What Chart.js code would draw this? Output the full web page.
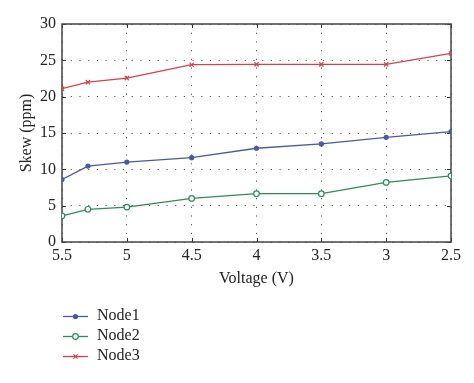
<!DOCTYPE html>
<html><head><meta charset="utf-8">
<script src="https://cdn.jsdelivr.net/npm/chart.js@4"></script>
<style>html,body{margin:0;padding:0;background:#fff}#wrap{width:474px;height:383px}</style>
</head><body><div id="wrap"><canvas id="c" width="474" height="383"></canvas></div>
<script>
const voltages = [5.5, 5.3, 5, 4.5, 4, 3.5, 3, 2.5];
const node1 = [8.6, 10.45, 11.0, 11.6, 12.9, 13.5, 14.4, 15.2];
const node2 = [3.6, 4.5, 4.8, 6.0, 6.65, 6.65, 8.2, 9.1];
const node3 = [21.1, 22.0, 22.55, 24.4, 24.45, 24.45, 24.45, 25.95];
const xTicks = [5.5, 5, 4.5, 4, 3.5, 3, 2.5];
const yTicks = [0, 5, 10, 15, 20, 25, 30];
const seriesNames = ['Node1', 'Node2', 'Node3'];

const FONT = "'Liberation Serif', 'DejaVu Serif', serif";
const pts = arr => voltages.map((v, i) => ({x: v, y: arr[i]}));

const styles = [
  {color: '#4a5a9c', pointStyle: 'circle', radius: 2, fill: '#4a5a9c'},
  {color: '#2e8a5a', pointStyle: 'circle', radius: 2.8, fill: '#ffffff'},
  {color: '#d2434d', pointStyle: 'crossRot', radius: 3, fill: '#d2434d'}
];
const datasets = [node1, node2, node3].map((d, i) => ({
  label: seriesNames[i], data: pts(d),
  borderColor: styles[i].color, backgroundColor: styles[i].fill,
  pointStyle: styles[i].pointStyle, pointRadius: styles[i].radius,
  pointBorderColor: styles[i].color, pointBorderWidth: 1.2,
  borderWidth: 1.3, tension: 0
}));

const framePlugin = {
  id: 'frame',
  beforeDatasetsDraw(chart) {
    const {ctx, chartArea: a, scales} = chart;
    ctx.save();
    ctx.strokeStyle = '#333';
    ctx.lineWidth = 1;
    const L = 4;
    ctx.beginPath();
    scales.x.ticks.forEach((t, i) => {
      const x = Math.round(scales.x.getPixelForTick(i)) + 0.5;
      ctx.moveTo(x, a.bottom); ctx.lineTo(x, a.bottom - L);
      ctx.moveTo(x, a.top); ctx.lineTo(x, a.top + L);
    });
    scales.y.ticks.forEach((t, i) => {
      const y = Math.round(scales.y.getPixelForTick(i)) + 0.5;
      ctx.moveTo(a.left, y); ctx.lineTo(a.left + L, y);
      ctx.moveTo(a.right, y); ctx.lineTo(a.right - L, y);
    });
    ctx.stroke();
    ctx.strokeStyle = '#444';
    ctx.lineWidth = 1.5;
    ctx.strokeRect(a.left, a.top, a.right - a.left, a.bottom - a.top);
    ctx.restore();
  },
  afterDraw(chart) {
    const {ctx} = chart;
    ctx.save();
    const x0 = 63, x1 = 88, tx = 97, rows = [316, 336, 356];
    chart.data.datasets.forEach((ds, i) => {
      const y = rows[i];
      ctx.strokeStyle = ds.borderColor; ctx.lineWidth = 1.3;
      ctx.beginPath(); ctx.moveTo(x0, y + 0.5); ctx.lineTo(x1, y + 0.5); ctx.stroke();
      ctx.fillStyle = ds.backgroundColor;
      ctx.strokeStyle = ds.borderColor;
      ctx.lineWidth = 1.2;
      Chart.helpers.drawPoint(ctx, {pointStyle: ds.pointStyle, radius: ds.pointRadius, borderWidth: 1.2}, (x0 + x1) / 2, y + 0.5);
      ctx.fillStyle = '#222';
      ctx.font = '16px ' + FONT;
      ctx.textBaseline = 'middle';
      ctx.textAlign = 'left';
      ctx.fillText(ds.label, tx, y);
    });
    ctx.restore();
  }
};

new Chart(document.getElementById('c'), {
  type: 'line',
  data: {datasets},
  plugins: [framePlugin],
  options: {
    responsive: false, animation: false,
    layout: {padding: {top: 24, right: 23, bottom: 91, left: 0}},
    plugins: {legend: {display: false}, tooltip: {enabled: false}},
    scales: {
      x: {
        type: 'linear', reverse: true, min: 2.5, max: 5.5,
        afterBuildTicks: s => { s.ticks = xTicks.map(v => ({value: v})); },
        afterFit: s => { s.height = 50; },
        grid: {color: '#555', lineWidth: 1, drawTicks: false},
        border: {display: false, dash: [1.2, 7.5]},
        ticks: {color: '#222', font: {family: FONT, size: 16}, padding: 4, maxRotation: 0,
                callback: v => String(v)},
        title: {display: true, text: 'Voltage (V)', color: '#222', font: {family: FONT, size: 16}, padding: {top: 2}}
      },
      y: {
        min: 0, max: 30,
        afterBuildTicks: s => { s.ticks = yTicks.map(v => ({value: v})); },
        afterFit: s => { s.width = 62; },
        grid: {color: '#555', lineWidth: 1, drawTicks: false},
        border: {display: false, dash: [1.2, 7.5]},
        ticks: {color: '#222', font: {family: FONT, size: 16}, padding: 6},
        title: {display: true, text: 'Skew (ppm)', color: '#222', font: {family: FONT, size: 16}, padding: {top: 17, bottom: 0}}
      }
    }
  }
});
</script></body></html>
